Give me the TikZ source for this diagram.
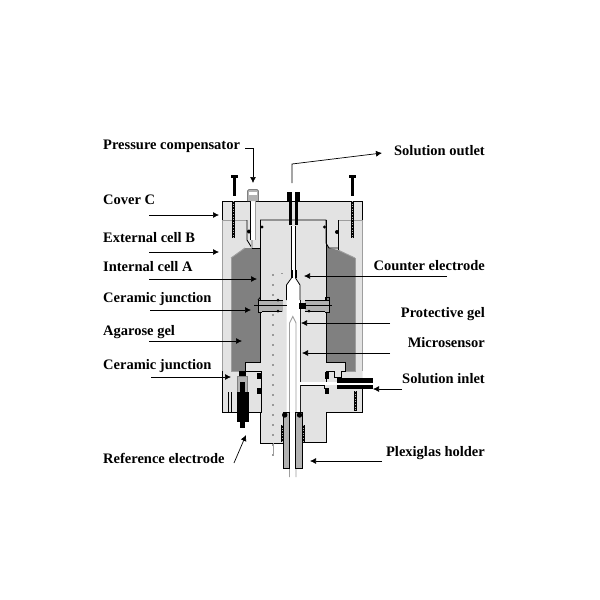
\documentclass[tikz,border=0pt]{standalone}
\usepackage{fontspec}
\setmainfont{Liberation Serif}
\usetikzlibrary{arrows.meta}
\definecolor{body}{gray}{0.89}
\definecolor{gel}{gray}{0.50}
\definecolor{holder}{gray}{0.70}
\definecolor{edge}{gray}{0.62}
\tikzset{
  x=1pt,y=-1pt,
  lab/.style={font=\fontsize{14.5}{16}\selectfont\bfseries,inner sep=0pt,anchor=west,text=black},
  labr/.style={lab,anchor=east},
  conn/.style={draw=black,line width=0.7pt,-{Latex[length=6pt,width=6pt]}},
  outline/.style={draw=black,line width=0.8pt},
  greyline/.style={draw=edge,line width=0.9pt},
  thread/.style={draw=black,line width=3pt,postaction={draw=gray!60,line width=0.9pt,dash pattern=on 1pt off 1.6pt}},
  blk/.style={fill=black,draw=none},
  dotline/.style={draw=gray!80,line width=1.5pt,dash pattern=on 1.5pt off 8.5pt},
}
\begin{document}
\begin{tikzpicture}
\useasboundingbox (0,0) rectangle (600,600);
\fill[white] (0,0) rectangle (600,600);
% body
\fill[body] (222,201) -- (362.5,201) -- (362.5,412) -- (326,412) -- (326,442.5) -- (303,442.5) -- (303,412) -- (283,412) -- (283,443) -- (260.5,443) -- (260.5,412) -- (222,412) -- cycle;
% gel
\fill[gel] (231,258) -- (245,248) -- (260.5,248) -- (260.5,362) -- (245,362) -- (245,371) -- (231,371) -- cycle;
\fill[gel] (326,243) -- (329,248) -- (338,250) -- (355,258) -- (355,371) -- (345,371) -- (345,362) -- (326,362) -- cycle;
\draw[greyline] (231,258) -- (231,371) -- (245,371);
\draw[greyline] (355,258) -- (355,371) -- (345,371);
\draw[greyline] (231,258) -- (245,248);
\draw[greyline] (338,250) -- (355,258);
% outer edges
\draw[outline] (222,220) -- (222,201) -- (362.5,201) -- (362.5,220);
\draw[greyline] (222,220) -- (222,371);
\draw[greyline] (362.5,220) -- (362.5,371);
\draw[greyline] (222,220) -- (247,220);
\draw[greyline] (338,220) -- (362.5,220);
\draw[outline] (222,371) -- (222,412) -- (261,412) -- (261,371) -- (245,371);
\draw[outline] (362.5,385) -- (362.5,412) -- (326,412);
% cover recess
\draw[outline] (247,220) -- (247,240) -- (252,248);
\draw[outline] (338,220) -- (338,250);
\draw[outline] (260.5,362) -- (260.5,220) -- (326,220) -- (326,243) -- (329,248) -- (338,248);
\draw[outline] (252,248) -- (260.5,248);
\draw[outline] (245,371) -- (245,362) -- (260.5,362);
\draw[outline] (326,220) -- (326,362) -- (345,362) -- (345,371) -- (341,371) -- (341,377) -- (334,377) -- (334,371) -- (326,371) -- (326,382) -- (300,382);
\fill[white] (300,382) rectangle (363,385);
\draw[outline] (300,385) -- (324,385) -- (324,388);
\draw[outline] (324,388) -- (329,388);
% lower outline of cell A
\draw[outline] (260.5,412) -- (260.5,443) -- (282.5,443);
\draw[outline] (303,442.5) -- (326,442.5) -- (326,412);
\draw[outline] (300,385) -- (300,412);
\draw[outline] (300,382) -- (300,300);
\draw[outline] (287,300) -- (287,412);
% dotted centre line
\draw[dotline] (273,274) -- (273,456);
\draw[greyline,line width=0.7pt] (273,443) -- (273,456);
\draw[dotline] (281,273.5) -- (290,273.5);
% central channel
\fill[white] (291.5,226) -- (295.5,226) -- (295.5,278) -- (300,285) -- (300,412) -- (286.5,412) -- (286.5,285) -- (291.5,278) -- cycle;
\draw[outline] (291.5,226) -- (291.5,278) -- (286.5,285) -- (286.5,300);
\draw[outline] (295.5,226) -- (295.5,278) -- (300,285) -- (300,300);
% counter electrode
\fill[blk] (290.5,270) rectangle (292.5,278);
\fill[blk] (294.5,270) rectangle (296.5,278);
% top tube
\fill[blk] (286.5,192) rectangle (292,202);
\fill[blk] (294.5,192) rectangle (300,202);
\fill[blk] (288.5,202) rectangle (292,225);
\fill[blk] (294.5,202) rectangle (298,225);
% microsensor
\fill[white] (289.5,322) -- (292.5,316) -- (296,322) -- (296,412) -- (289.5,412) -- cycle;
\draw[greyline] (289.5,477) -- (289.5,323) -- (292.8,316.5) -- (296,323) -- (296,477);
% holders
\fill[holder,draw=black,line width=0.8pt] (283,412) rectangle (289.5,468);
\fill[holder,draw=black,line width=0.8pt] (295.5,412) rectangle (302,468);
\fill[blk] (284.7,415) circle (2.7);
\fill[blk] (299.5,415) circle (2.7);
\draw[thread] (282.5,425) -- (282.5,442);
\draw[thread] (303,425) -- (303,442);
% pressure compensator
\fill[white] (250.5,195) rectangle (255,240);
\draw[outline] (250.5,198) -- (250.5,240);
\draw[greyline] (255,198) -- (255,240);
\fill[holder] (250.5,240) rectangle (253,248);
\draw[outline,fill=holder,draw=gray] (247.5,201) -- (247.5,191) -- (249,189.5) -- (257,189.5) -- (258.5,191) -- (258.5,201);
\fill[white] (249,192) rectangle (257,195);
\fill[blk] (249,231.5) circle (2);
% O-rings
\fill[blk] (262,227) circle (1.7);
\fill[blk] (324.5,227) circle (1.7);
\fill[blk] (337,232) circle (2);
% bolts
\fill[blk] (233,176) rectangle (235.5,196);
\fill[blk] (230.5,175) rectangle (238,177.5);
\fill[blk] (351,176) rectangle (354,196);
\fill[blk] (348.5,175) rectangle (356,177.5);
\draw[thread] (233.5,201) -- (233.5,238);
\draw[thread] (352.5,201) -- (352.5,238);
\draw[line width=1pt] (228,392) -- (228,412);
\draw[line width=1pt] (231,392) -- (231,412);
\draw[thread] (355.5,391) -- (355.5,411);
% ceramic junction left
\fill[holder] (258,300) rectangle (283,312);
\draw[outline] (258,300) -- (258,312.5) -- (262,312.5);
\draw[outline] (258,300) -- (260.5,297);
\draw[outline] (258,300.5) -- (283,300.5);
\draw[outline] (262,311) -- (282,311);
\draw[line width=1.8pt] (254,305.5) -- (287,305.5);
\fill[blk] (278,300) circle (1.5);
\fill[blk] (278,311) circle (1.5);
% ceramic junction right
\fill[holder] (305,300) rectangle (329,312);
\draw[outline] (329,300) -- (329,312.5) -- (325,312.5);
\draw[outline] (329,300) -- (329,297) -- (325.5,297) -- (325.5,300);
\draw[outline] (305,300.5) -- (329,300.5);
\draw[outline] (305,311) -- (325,311);
\draw[line width=1.8pt] (299,305.5) -- (332,305.5);
\fill[blk] (299,302.5) rectangle (306,308.5);
\fill[blk] (309,311) circle (1.5);
% reference electrode
\fill[holder,draw=gray] (237.5,376) rectangle (247.5,392);
\fill[blk] (239,371) rectangle (246,376);
\fill[blk] (240,382) rectangle (245,392);
\fill[blk] (237,392) rectangle (249,422);
\fill[blk] (240,422) rectangle (245,427.5);
% squares
\fill[blk] (257,373) rectangle (261,379);
\fill[blk] (257,388) rectangle (261,394);
\fill[blk] (325,372) rectangle (329,379);
\fill[blk] (325,388) rectangle (329,394);
% inlet tubes
\fill[blk] (337,378) rectangle (373,382.5);
\fill[blk] (337,385) rectangle (373,388.5);
% labels
\node[lab] (pc) at (103,146) {Pressure compensator};
\node[lab] (cc) at (103,200) {Cover C};
\node[lab] (eb) at (103,238) {External cell B};
\node[lab] (ia) at (103,267) {Internal cell A};
\node[lab] (j1) at (103,299) {Ceramic junction};
\node[lab] (ag) at (103,332) {Agarose gel};
\node[lab] (j2) at (103,366) {Ceramic junction};
\node[lab] (re) at (103,458) {Reference electrode};
\node[labr] (so) at (485,151) {Solution outlet};
\node[labr] (ce) at (485,266) {Counter electrode};
\node[labr] (pg) at (485,314) {Protective gel};
\node[labr] (ms) at (485,343) {Microsensor};
\node[labr] (si) at (485,379) {Solution inlet};
\node[labr] (ph) at (485,453) {Plexiglas holder};
% connector ends
\coordinate (pca) at (245,148);\coordinate (pcb) at (253,148);\coordinate (pcc) at (253,183);
\coordinate (soa) at (292,183);\coordinate (sob) at (292,164);\coordinate (soc) at (382,153);
\coordinate (cca) at (149,215);\coordinate (ccb) at (219,215);
\coordinate (eba) at (149,252);\coordinate (ebb) at (219,252);
\coordinate (iaa) at (149,279);\coordinate (iab) at (257,279);
\coordinate (j1a) at (150,310);\coordinate (j1b) at (251,310);
\coordinate (aga) at (149,341);\coordinate (agb) at (242,341);
\coordinate (j2a) at (151,377);\coordinate (j2b) at (231,377);
\coordinate (rea) at (234,463);\coordinate (reb) at (246,435);
\coordinate (cea) at (447,276);\coordinate (ceb) at (304,276);
\coordinate (pga) at (390,323);\coordinate (pgb) at (301,323);
\coordinate (msa) at (390,353);\coordinate (msb) at (302,353);
\coordinate (sia) at (402,389);\coordinate (sib) at (373,389);
\coordinate (pha) at (382,461);\coordinate (phb) at (310,461);
\draw[conn] (pca) -- (pcb) -- (pcc);
\draw[conn] (soa) -- (sob) -- (soc);
\draw[conn] (cca) -- (ccb);
\draw[conn] (eba) -- (ebb);
\draw[conn] (iaa) -- (iab);
\draw[conn] (j1a) -- (j1b);
\draw[conn] (aga) -- (agb);
\draw[conn] (j2a) -- (j2b);
\draw[conn] (rea) -- (reb);
\draw[conn] (cea) -- (ceb);
\draw[conn] (pga) -- (pgb);
\draw[conn] (msa) -- (msb);
\draw[conn] (sia) -- (sib);
\draw[conn] (pha) -- (phb);
\end{tikzpicture}
\end{document}
